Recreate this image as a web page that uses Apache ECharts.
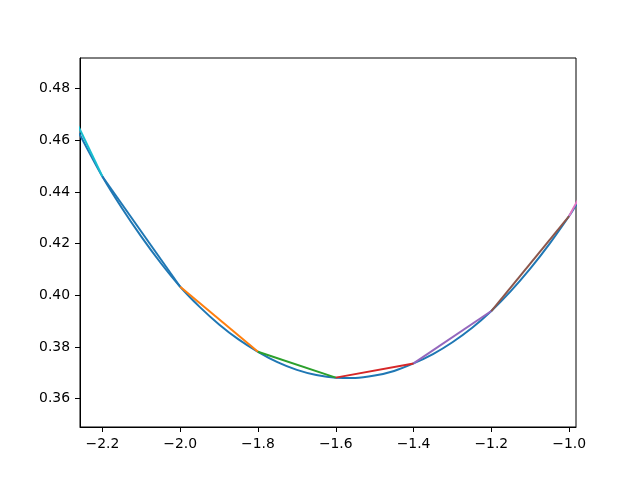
<!DOCTYPE html>
<html>
<head>
<meta charset="utf-8">
<script src="https://cdn.jsdelivr.net/npm/echarts@6/dist/echarts.min.js"></script>
<style>
  html, body { margin: 0; padding: 0; background: #fff; }
  #chart { width: 640px; height: 480px; }
</style>
</head>
<body>
<div id="chart"></div>
<script>
// smooth curve
var curveX = [-2.26, -2.2, -2.15, -2.1, -2.05, -2.0, -1.95, -1.9, -1.85, -1.8, -1.75, -1.7, -1.65, -1.6,
              -1.55, -1.5, -1.45, -1.4, -1.35, -1.3, -1.25, -1.2, -1.15, -1.1, -1.05, -1.0, -0.98];
var curveY = [0.4628, 0.4460, 0.4338, 0.4227, 0.4125, 0.4033, 0.3955, 0.3887, 0.3829, 0.3781, 0.3741, 0.3711, 0.3691, 0.3681,
              0.3680, 0.3689, 0.3707, 0.3736, 0.3772, 0.3818, 0.3873, 0.3939, 0.4016, 0.4103, 0.4200, 0.4307, 0.4355];

// chord end points (first and last ones run past the axes and get clipped)
var nodeX = [-2.4, -2.2, -2.0, -1.8, -1.6, -1.4, -1.2, -1.0, -0.8];
var nodeY = [0.509, 0.4460, 0.4033, 0.3781, 0.3681, 0.3736, 0.3939, 0.4307, 0.4862];

var xTicks = [-2.2, -2.0, -1.8, -1.6, -1.4, -1.2, -1.0];
var yTicks = [0.36, 0.38, 0.40, 0.42, 0.44, 0.46, 0.48];

var chordColors = ['#17becf', '#1f77b4', '#ff7f0e', '#2ca02c', '#d62728', '#9467bd', '#8c564b', '#e377c2'];

var xMin = -2.2576, xMax = -0.9823;
var yMin = 0.34898, yMax = 0.49191;

var chart = echarts.init(document.getElementById('chart'));

var series = [{
    type: 'line',
    data: curveX.map(function (x, i) { return [x, curveY[i]]; }),
    showSymbol: false,
    symbol: 'none',
    smooth: 0.3,
    lineStyle: { color: '#1f77b4', width: 2 },
    z: 2
}];
for (var i = 0; i < nodeX.length - 1; i++) {
    series.push({
        type: 'line',
        data: [[nodeX[i], nodeY[i]], [nodeX[i + 1], nodeY[i + 1]]],
        symbol: 'none',
        lineStyle: { color: chordColors[i], width: 2 },
        z: 3
    });
}

function minus(s) { return s.replace('-', '\u2212'); }

var labelStyle = { color: '#000', fontFamily: 'DejaVu Sans', fontSize: 13.9, margin: 10 };

var option = {
    animation: false,
    backgroundColor: '#fff',
    grid: {
        left: 80, right: 64, top: 58, bottom: 53,
        show: true, borderColor: '#000', borderWidth: 1, backgroundColor: 'transparent'
    },
    xAxis: {
        type: 'value',
        min: xMin, max: xMax,
        axisLine: { show: true, onZero: false, lineStyle: { color: '#000', width: 1 } },
        axisTick: { show: true, length: 5, lineStyle: { color: '#000', width: 1 }, customValues: xTicks },
        axisLabel: Object.assign({
            customValues: xTicks,
            formatter: function (v) { return minus(v.toFixed(1)); }
        }, labelStyle),
        splitLine: { show: false }
    },
    yAxis: {
        type: 'value',
        min: yMin, max: yMax,
        axisLine: { show: true, onZero: false, lineStyle: { color: '#000', width: 1 } },
        axisTick: { show: true, length: 5, lineStyle: { color: '#000', width: 1 }, customValues: yTicks },
        axisLabel: Object.assign({
            customValues: yTicks,
            formatter: function (v) { return v.toFixed(2); }
        }, labelStyle),
        splitLine: { show: false }
    },
    series: series
};
chart.setOption(option);
</script>
</body>
</html>
